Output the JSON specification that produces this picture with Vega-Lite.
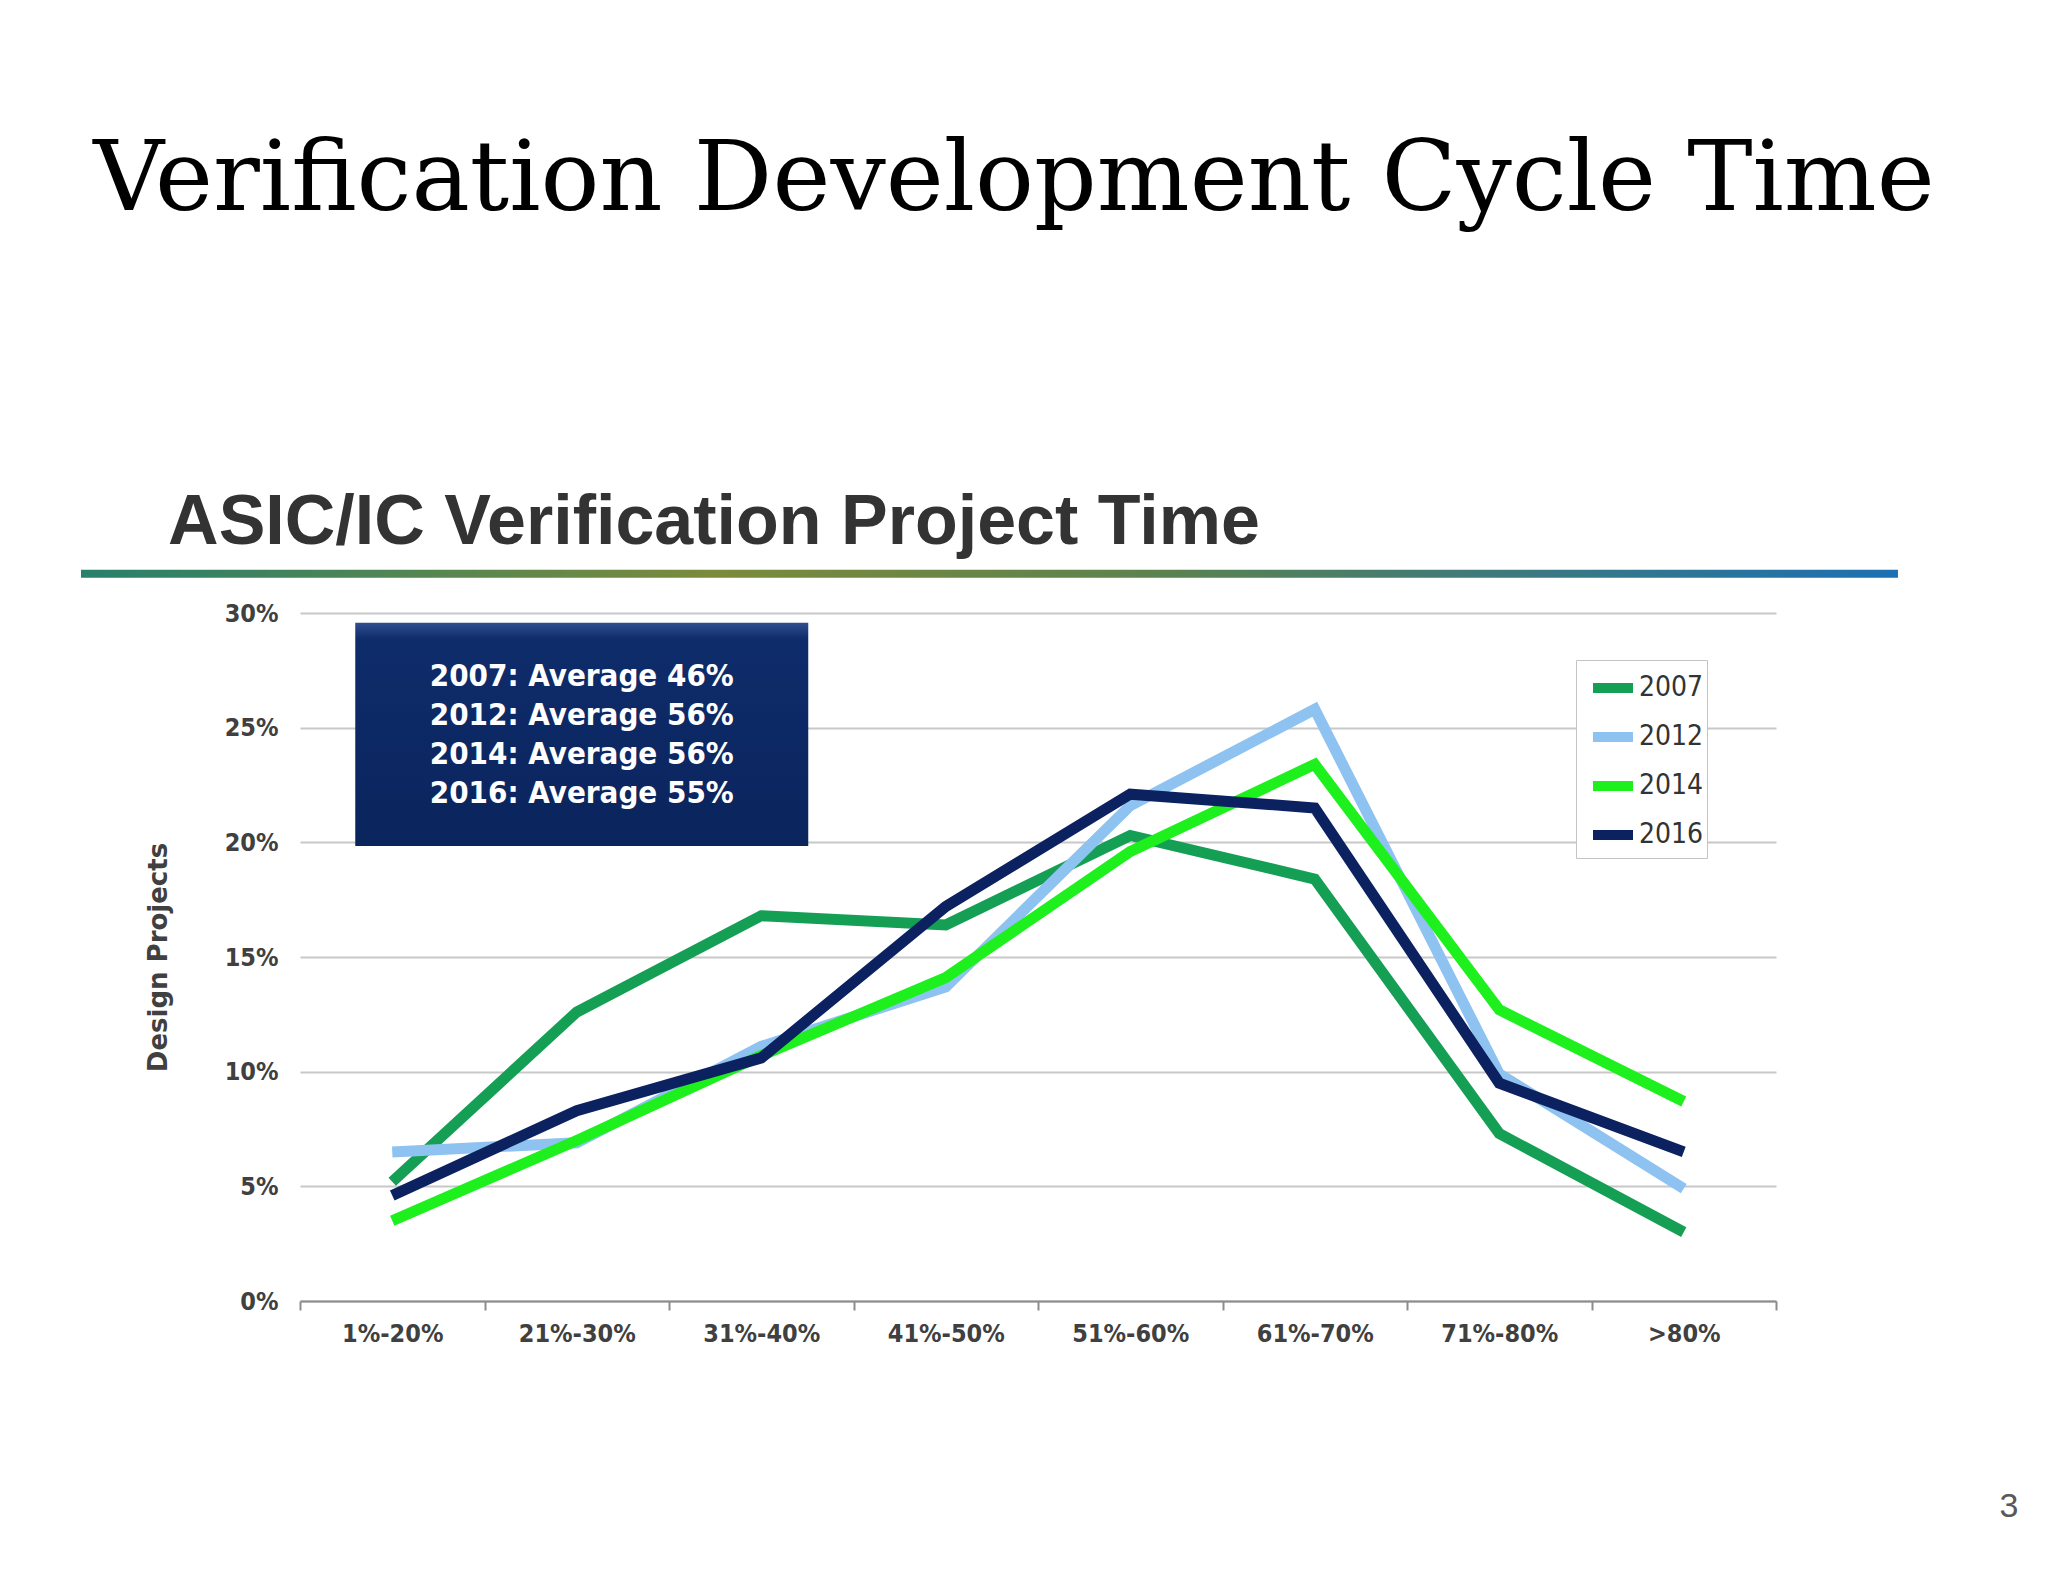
{
  "$schema": "https://vega.github.io/schema/vega-lite/v6.json",
  "width": 1476,
  "height": 688,
  "autosize": {"type": "none"},
  "padding": {"left": 300, "top": 613, "right": 272, "bottom": 281},
  "background": "white",
  "title": {
    "text": "Verification Development Cycle Time",
    "anchor": "middle",
    "frame": "group",
    "dx": -24,
    "offset": 257,
    "font": "DejaVu Serif",
    "fontSize": 98,
    "fontWeight": "normal",
    "color": "#000000"
  },
  "datasets": {
    "survey": [
      {"range": "1%-20%", "year": "2007", "pct": 5.2},
      {"range": "21%-30%", "year": "2007", "pct": 12.6},
      {"range": "31%-40%", "year": "2007", "pct": 16.8},
      {"range": "41%-50%", "year": "2007", "pct": 16.4},
      {"range": "51%-60%", "year": "2007", "pct": 20.3},
      {"range": "61%-70%", "year": "2007", "pct": 18.4},
      {"range": "71%-80%", "year": "2007", "pct": 7.3},
      {"range": ">80%", "year": "2007", "pct": 3.0},
      {"range": "1%-20%", "year": "2012", "pct": 6.5},
      {"range": "21%-30%", "year": "2012", "pct": 6.9},
      {"range": "31%-40%", "year": "2012", "pct": 11.1},
      {"range": "41%-50%", "year": "2012", "pct": 13.7},
      {"range": "51%-60%", "year": "2012", "pct": 21.6},
      {"range": "61%-70%", "year": "2012", "pct": 25.8},
      {"range": "71%-80%", "year": "2012", "pct": 9.9},
      {"range": ">80%", "year": "2012", "pct": 4.9},
      {"range": "1%-20%", "year": "2014", "pct": 3.5},
      {"range": "21%-30%", "year": "2014", "pct": 7.0},
      {"range": "31%-40%", "year": "2014", "pct": 10.7},
      {"range": "41%-50%", "year": "2014", "pct": 14.1},
      {"range": "51%-60%", "year": "2014", "pct": 19.6},
      {"range": "61%-70%", "year": "2014", "pct": 23.4},
      {"range": "71%-80%", "year": "2014", "pct": 12.7},
      {"range": ">80%", "year": "2014", "pct": 8.7},
      {"range": "1%-20%", "year": "2016", "pct": 4.6},
      {"range": "21%-30%", "year": "2016", "pct": 8.3},
      {"range": "31%-40%", "year": "2016", "pct": 10.6},
      {"range": "41%-50%", "year": "2016", "pct": 17.2},
      {"range": "51%-60%", "year": "2016", "pct": 22.1},
      {"range": "61%-70%", "year": "2016", "pct": 21.5},
      {"range": "71%-80%", "year": "2016", "pct": 9.5},
      {"range": ">80%", "year": "2016", "pct": 6.5}
    ],
    "one": [{}]
  },
  "layer": [
    {
      "data": {"name": "survey"},
      "mark": {"type": "line", "strokeWidth": 11},
      "encoding": {
        "x": {
          "field": "range",
          "type": "nominal",
          "sort": ["1%-20%", "21%-30%", "31%-40%", "41%-50%", "51%-60%", "61%-70%", "71%-80%", ">80%"],
          "scale": {
            "type": "band",
            "domain": ["1%-20%", "21%-30%", "31%-40%", "41%-50%", "51%-60%", "61%-70%", "71%-80%", ">80%"],
            "paddingInner": 0,
            "paddingOuter": 0
          },
          "axis": {
            "labelAngle": 0,
            "labelFont": "DejaVu Sans Condensed",
            "labelFontWeight": "bold",
            "labelFontSize": 25,
            "labelColor": "#404040",
            "labelPadding": 11,
            "domainColor": "#8c8c8c",
            "domainWidth": 2,
            "tickColor": "#8c8c8c",
            "tickWidth": 2,
            "tickSize": 9,
            "tickBand": "extent",
            "title": "3",
            "titleFont": "Liberation Sans",
            "titleFontWeight": "normal",
            "titleFontSize": 34,
            "titleColor": "#595959",
            "titleAlign": "right",
            "titleBaseline": "alphabetic",
            "titleX": 1718,
            "titleY": 215
          }
        },
        "y": {
          "field": "pct",
          "type": "quantitative",
          "scale": {"domain": [0, 30], "nice": false},
          "axis": {
            "values": [0, 5, 10, 15, 20, 25, 30],
            "labelExpr": "datum.value + '%'",
            "labelFont": "DejaVu Sans Condensed",
            "labelFontWeight": "bold",
            "labelFontSize": 25,
            "labelColor": "#404040",
            "labelPadding": 22,
            "domain": false,
            "ticks": false,
            "grid": true,
            "gridColor": "#c8c8c8",
            "gridWidth": 2,
            "title": "Design Projects",
            "titleFont": "DejaVu Sans",
            "titleFontWeight": "bold",
            "titleFontSize": 26,
            "titleColor": "#404040",
            "titlePadding": 53
          }
        },
        "color": {
          "field": "year",
          "type": "nominal",
          "scale": {
            "domain": ["2007", "2012", "2014", "2016"],
            "range": ["#149f55", "#8ec2f0", "#1ef01e", "#0c2160"]
          },
          "legend": {
            "orient": "none",
            "legendX": 1276,
            "legendY": 47,
            "title": null,
            "symbolType": "stroke",
            "symbolStrokeWidth": 10,
            "symbolSize": 1600,
            "symbolOffset": 9,
            "labelOffset": 1,
            "labelExpr": "datum.label + '\u00a0\u00a0\u00a0\u00a0'",
            "labelFont": "DejaVu Sans Condensed",
            "labelFontSize": 28,
            "labelColor": "#333333",
            "fillColor": "white",
            "strokeColor": "#c4c4c4",
            "padding": 3,
            "rowPadding": 4
          }
        }
      }
    },
    {
      "data": {"name": "one"},
      "mark": {
        "type": "rect",
        "width": 453,
        "xOffset": 5,
        "fill": {
          "gradient": "linear",
          "x1": 0, "y1": 0, "x2": 0, "y2": 1,
          "stops": [
            {"offset": 0, "color": "#2f4f90"},
            {"offset": 0.07, "color": "#0f2c6b"},
            {"offset": 1, "color": "#0a245c"}
          ]
        }
      },
      "encoding": {
        "x": {
          "datum": "21%-30%",
          "type": "nominal",
          "scale": {
            "type": "band",
            "domain": ["1%-20%", "21%-30%", "31%-40%", "41%-50%", "51%-60%", "61%-70%", "71%-80%", ">80%"],
            "paddingInner": 0,
            "paddingOuter": 0
          },
          "axis": null
        },
        "y": {"datum": 29.57, "type": "quantitative", "scale": {"domain": [0, 30], "nice": false}},
        "y2": {"datum": 19.84}
      }
    },
    {
      "data": {"name": "one"},
      "mark": {
        "type": "text",
        "align": "center",
        "baseline": "middle",
        "lineHeight": 39,
        "dx": 5,
        "font": "DejaVu Sans Condensed",
        "fontWeight": "bold",
        "fontSize": 31,
        "color": "white"
      },
      "encoding": {
        "x": {
          "datum": "21%-30%",
          "type": "nominal",
          "scale": {
            "type": "band",
            "domain": ["1%-20%", "21%-30%", "31%-40%", "41%-50%", "51%-60%", "61%-70%", "71%-80%", ">80%"],
            "paddingInner": 0,
            "paddingOuter": 0
          },
          "axis": null
        },
        "y": {"datum": 27.2, "type": "quantitative", "scale": {"domain": [0, 30], "nice": false}},
        "text": {"value": ["2007: Average 46%", "2012: Average 56%", "2014: Average 56%", "2016: Average 55%"]}
      }
    },
    {
      "data": {"name": "one"},
      "mark": {
        "type": "rect",
        "fill": {
          "gradient": "linear",
          "x1": 0, "y1": 0, "x2": 1, "y2": 0,
          "stops": [
            {"offset": 0, "color": "#27806c"},
            {"offset": 0.35, "color": "#7b8b3b"},
            {"offset": 0.6, "color": "#5a8250"},
            {"offset": 1, "color": "#1b70b4"}
          ]
        }
      },
      "encoding": {
        "x": {"datum": -1.187, "type": "quantitative", "scale": {"domain": [0, 8], "nice": false, "zero": false}, "axis": null},
        "x2": {"datum": 8.661},
        "y": {"datum": 31.89, "type": "quantitative", "scale": {"domain": [0, 30], "nice": false}},
        "y2": {"datum": 31.54}
      }
    },
    {
      "data": {"name": "one"},
      "mark": {
        "type": "text",
        "align": "left",
        "baseline": "alphabetic",
        "font": "Liberation Sans",
        "fontWeight": "bold",
        "fontSize": 70,
        "color": "#333333"
      },
      "encoding": {
        "x": {"datum": -0.715, "type": "quantitative", "scale": {"domain": [0, 8], "nice": false, "zero": false}, "axis": null},
        "y": {"datum": 33.0, "type": "quantitative", "scale": {"domain": [0, 30], "nice": false}},
        "text": {"value": "ASIC/IC Verification Project Time"}
      }
    }
  ],
  "resolve": {"scale": {"x": "independent"}},
  "config": {"view": {"stroke": null}}
}
